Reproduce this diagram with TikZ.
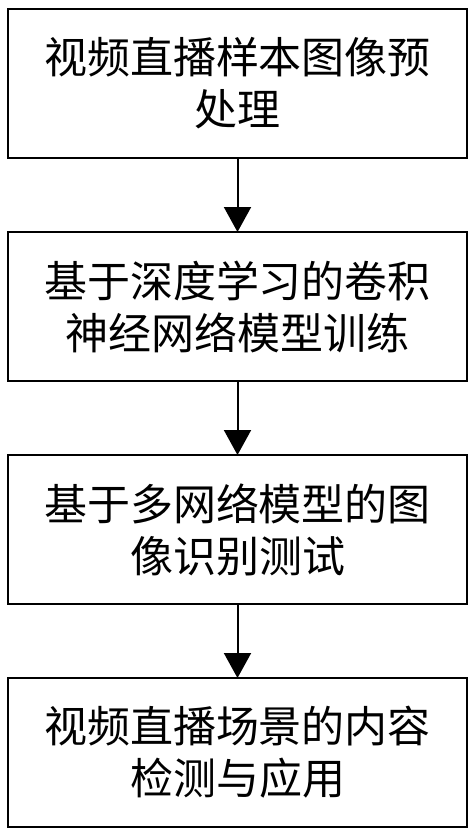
\documentclass[tikz,border=0pt]{standalone}
\usepackage{fontspec}
\newfontfamily\cjk{Noto Sans CJK SC}
\usetikzlibrary{arrows.meta,positioning}

\begin{document}
\begin{tikzpicture}[>={Triangle[width=27pt,length=25pt]},
  stepbox/.style={draw,line width=2.5pt,outer sep=0pt,minimum width=459pt,minimum height=149pt,
    align=center,font=\cjk\fontsize{43pt}{52pt}\selectfont},
  node distance=74pt]
\useasboundingbox (0,0) rectangle (474pt,-833pt);
\node[stepbox] (pre) at (237.5pt,-83.5pt) {视频直播样本图像预\\处理};
\node[stepbox,below=of pre] (train) {基于深度学习的卷积\\神经网络模型训练};
\node[stepbox,below=of train] (test) {基于多网络模型的图\\像识别测试};
\node[stepbox,below=of test] (app) {视频直播场景的内容\\检测与应用};
\draw[->,line width=2pt] (pre) -- (train);
\draw[->,line width=2pt] (train) -- (test);
\draw[->,line width=2pt] (test) -- (app);
\end{tikzpicture}
\end{document}
